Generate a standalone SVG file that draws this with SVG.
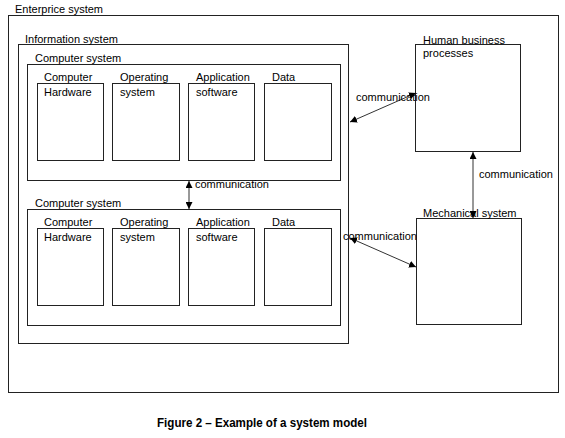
<svg xmlns="http://www.w3.org/2000/svg" width="565" height="438" viewBox="0 0 565 438">
<defs>
<style>
text{font-family:"Liberation Sans",Arial,sans-serif;font-size:11px;fill:#000}
.b{fill:#fff;stroke:#222;stroke-width:1}
.c{stroke:#333;stroke-width:1;fill:none;marker-start:url(#ah);marker-end:url(#ah)}
.cap{font-weight:bold;font-size:13px}
</style>
<marker id="ah" viewBox="0 0 10 10" refX="10" refY="5" markerWidth="7" markerHeight="7" markerUnits="userSpaceOnUse" orient="auto-start-reverse">
<path d="M0,0 L10,5 L0,10 Z" fill="#000"/>
</marker>
</defs>
<rect width="565" height="438" fill="#fff"/>
<g id="enterprise">
<rect class="b" x="8.5" y="15.5" width="550" height="377"/>
<text x="15" y="13">Enterprice system</text>
</g>
<g id="information-system">
<rect class="b" x="18.5" y="44.5" width="330" height="299"/>
<text x="25" y="43">Information system</text>
</g>
<g id="computer-system-1">
<rect class="b" x="27.5" y="64.5" width="313" height="116"/>
<text x="35" y="62">Computer system</text>
</g>
<g id="hardware-1"><rect class="b" x="37.5" y="83.5" width="66" height="77"/><text x="44" y="81">Computer</text><text x="44" y="96">Hardware</text></g>
<g id="os-1"><rect class="b" x="112.5" y="83.5" width="67" height="77"/><text x="120" y="81">Operating</text><text x="120" y="96">system</text></g>
<g id="app-1"><rect class="b" x="188.5" y="83.5" width="66" height="77"/><text x="196" y="81">Application</text><text x="196" y="96">software</text></g>
<g id="data-1"><rect class="b" x="264.5" y="83.5" width="67" height="77"/><text x="272" y="81">Data</text></g>
<g id="computer-system-2">
<rect class="b" x="27.5" y="209.5" width="313" height="116"/>
<text x="35" y="207">Computer system</text>
</g>
<g id="hardware-2"><rect class="b" x="37.5" y="228.5" width="66" height="77"/><text x="44" y="226">Computer</text><text x="44" y="241">Hardware</text></g>
<g id="os-2"><rect class="b" x="112.5" y="228.5" width="67" height="77"/><text x="120" y="226">Operating</text><text x="120" y="241">system</text></g>
<g id="app-2"><rect class="b" x="188.5" y="228.5" width="66" height="77"/><text x="196" y="226">Application</text><text x="196" y="241">software</text></g>
<g id="data-2"><rect class="b" x="264.5" y="228.5" width="67" height="77"/><text x="272" y="226">Data</text></g>
<g id="human-business">
<rect class="b" x="415.5" y="44.5" width="105" height="107"/>
<text x="423" y="44">Human business</text>
<text x="423" y="57">processes</text>
</g>
<g id="mechanical">
<rect class="b" x="416.5" y="218.5" width="105" height="106"/>
<text x="423" y="217">Mechanical system</text>
</g>
<g id="connectors">
<line class="c" x1="189" y1="181" x2="189" y2="209"/>
<text x="195" y="188">communication</text>
<line class="c" x1="473" y1="152" x2="473" y2="218"/>
<text x="479" y="178">communication</text>
<line class="c" x1="350" y1="122" x2="416" y2="93"/>
<text x="356" y="101">communication</text>
<line class="c" x1="350" y1="238" x2="416" y2="267"/>
<text x="343" y="240">communication</text>
</g>
<text class="cap" x="157" y="427" textLength="210" lengthAdjust="spacingAndGlyphs">Figure 2 – Example of a system model</text>
</svg>
